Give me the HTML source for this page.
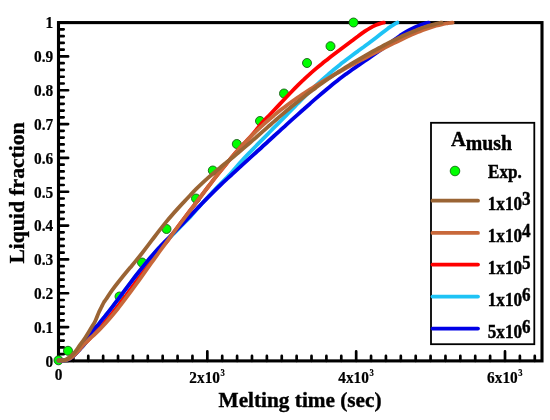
<!DOCTYPE html>
<html><head><meta charset="utf-8"><title>Liquid fraction vs melting time</title>
<style>html,body{margin:0;padding:0;background:#fff}svg{display:block}text{font-family:"Liberation Serif","DejaVu Serif",serif;font-weight:bold;fill:#000;stroke:#000;stroke-width:.2px}.b{stroke-width:.35px}.l{stroke-width:.45px}</style></head><body>
<svg width="550" height="420" viewBox="0 0 550 420">
<rect width="550" height="420" fill="#fff"/>
<path d="M58.5 360.90h9.6M58.5 354.13h5.2M58.5 347.37h5.2M58.5 340.60h5.2M58.5 333.84h5.2M58.5 327.07h9.6M58.5 320.30h5.2M58.5 313.54h5.2M58.5 306.77h5.2M58.5 300.01h5.2M58.5 293.24h9.6M58.5 286.47h5.2M58.5 279.71h5.2M58.5 272.94h5.2M58.5 266.18h5.2M58.5 259.41h9.6M58.5 252.64h5.2M58.5 245.88h5.2M58.5 239.11h5.2M58.5 232.35h5.2M58.5 225.58h9.6M58.5 218.81h5.2M58.5 212.05h5.2M58.5 205.28h5.2M58.5 198.52h5.2M58.5 191.75h9.6M58.5 184.98h5.2M58.5 178.22h5.2M58.5 171.45h5.2M58.5 164.69h5.2M58.5 157.92h9.6M58.5 151.15h5.2M58.5 144.39h5.2M58.5 137.62h5.2M58.5 130.86h5.2M58.5 124.09h9.6M58.5 117.32h5.2M58.5 110.56h5.2M58.5 103.79h5.2M58.5 97.03h5.2M58.5 90.26h9.6M58.5 83.49h5.2M58.5 76.73h5.2M58.5 69.96h5.2M58.5 63.20h5.2M58.5 56.43h9.6M58.5 49.66h5.2M58.5 42.90h5.2M58.5 36.13h5.2M58.5 29.37h5.2M58.5 22.60h9.6" stroke="#000" stroke-width="2.7" stroke-linecap="round" fill="none"/>
<path d="M58.50 360.9v-9.5M73.38 360.9v-5.0M88.27 360.9v-5.0M103.15 360.9v-5.0M118.03 360.9v-5.0M132.92 360.9v-5.0M147.80 360.9v-5.0M162.68 360.9v-5.0M177.57 360.9v-5.0M192.45 360.9v-5.0M207.33 360.9v-9.5M222.22 360.9v-5.0M237.10 360.9v-5.0M251.98 360.9v-5.0M266.87 360.9v-5.0M281.75 360.9v-5.0M296.63 360.9v-5.0M311.52 360.9v-5.0M326.40 360.9v-5.0M341.28 360.9v-5.0M356.17 360.9v-9.5M371.05 360.9v-5.0M385.93 360.9v-5.0M400.82 360.9v-5.0M415.70 360.9v-5.0M430.58 360.9v-5.0M445.47 360.9v-5.0M460.35 360.9v-5.0M475.23 360.9v-5.0M490.12 360.9v-5.0M505.00 360.9v-9.5M519.88 360.9v-5.0M534.77 360.9v-5.0" stroke="#000" stroke-width="2.7" stroke-linecap="round" fill="none"/>
<rect x="58.5" y="22.6" width="483.5" height="338.3" fill="none" stroke="#000" stroke-width="3.1"/>
<g fill="#00ff00" stroke="#1a5c1a" stroke-width="0.9"><circle cx="58.5" cy="360.3" r="4.5"/><circle cx="68.0" cy="350.8" r="4.5"/><circle cx="119.5" cy="296.5" r="4.5"/><circle cx="142.0" cy="262.5" r="4.5"/><circle cx="166.5" cy="229.0" r="4.5"/><circle cx="196.0" cy="198.5" r="4.5"/><circle cx="212.8" cy="170.5" r="4.5"/><circle cx="236.8" cy="144.0" r="4.5"/><circle cx="260.0" cy="121.0" r="4.5"/><circle cx="284.0" cy="93.5" r="4.5"/><circle cx="307.0" cy="63.0" r="4.5"/><circle cx="330.5" cy="46.2" r="4.5"/><circle cx="353.5" cy="22.5" r="4.5"/></g>
<path d="M58.5 360.5 C59.4 360.5 62.4 360.5 64.0 360.3 C65.6 360.1 66.7 359.9 68.0 359.3 C69.3 358.8 70.7 358.0 72.0 357.0 C73.3 356.0 74.7 354.8 76.0 353.5 C77.3 352.2 78.5 350.7 80.0 349.0 C81.5 347.3 83.3 345.3 85.0 343.5 C86.7 341.7 87.7 341.1 90.0 338.0 C92.3 334.9 97.3 326.8 99.0 325.0 C100.7 323.2 98.8 327.8 100.0 327.1 C101.2 326.3 104.0 322.8 106.0 320.5 C108.0 318.2 110.0 315.8 112.0 313.4 C114.0 311.0 116.0 308.5 118.0 305.9 C120.0 303.4 122.0 300.7 124.0 298.1 C126.0 295.4 128.0 292.7 130.0 290.0 C132.0 287.3 134.0 284.5 136.0 281.7 C138.0 278.9 140.0 276.1 142.0 273.3 C144.0 270.5 146.0 267.7 148.0 264.9 C150.0 262.1 152.0 259.3 154.0 256.6 C156.0 253.8 158.0 250.9 160.0 248.6 C162.0 246.2 164.0 244.9 166.0 242.6 C168.0 240.2 170.0 237.4 172.0 234.7 C174.0 232.1 176.0 229.4 178.0 226.7 C180.0 224.0 182.0 221.3 184.0 218.7 C186.0 216.0 188.0 213.4 190.0 210.7 C192.0 208.1 194.0 205.5 196.0 202.8 C198.0 200.2 200.0 197.5 202.0 194.9 C204.0 192.3 206.0 189.6 208.0 187.0 C210.0 184.4 212.0 181.8 214.0 179.2 C216.0 176.7 218.0 174.1 220.0 171.6 C222.0 169.1 224.0 166.6 226.0 164.2 C228.0 161.7 230.0 159.3 232.0 156.9 C234.0 154.6 236.0 152.3 238.0 150.1 C240.0 147.8 242.0 145.6 244.0 143.5 C246.0 141.4 248.0 139.5 250.0 137.3 C252.0 135.0 254.0 132.6 256.0 130.2 C258.0 127.8 260.0 125.1 262.0 122.9 C264.0 120.6 266.0 118.7 268.0 116.6 C270.0 114.5 272.0 112.5 274.0 110.3 C276.0 108.2 278.0 106.1 280.0 103.9 C282.0 101.8 284.0 99.7 286.0 97.5 C288.0 95.4 290.0 93.3 292.0 91.2 C294.0 89.1 296.0 87.1 298.0 85.1 C300.0 83.1 302.0 81.1 304.0 79.3 C306.0 77.4 308.0 75.6 310.0 73.8 C312.0 72.0 314.0 70.3 316.0 68.6 C318.0 66.9 320.0 65.3 322.0 63.7 C324.0 62.0 326.0 60.5 328.0 58.9 C330.0 57.3 332.0 55.8 334.0 54.3 C336.0 52.8 338.0 51.3 340.0 49.8 C342.0 48.2 344.0 46.7 346.0 45.2 C348.0 43.7 350.0 42.2 352.0 40.7 C354.0 39.2 356.0 37.6 358.0 36.2 C360.0 34.7 362.0 33.2 364.0 31.9 C366.0 30.6 368.0 29.2 370.0 28.1 C372.0 26.9 374.1 25.8 376.0 25.0 C377.9 24.2 380.1 23.5 381.4 23.1 C382.7 22.7 383.5 22.7 383.9 22.6" stroke="#ff0000" stroke-width="3.8" fill="none" stroke-linecap="round" stroke-linejoin="round"/>
<path d="M58.5 360.5 C59.4 360.5 62.4 360.5 64.0 360.3 C65.6 360.1 66.7 359.9 68.0 359.3 C69.3 358.8 70.7 358.0 72.0 357.0 C73.3 356.0 74.7 354.8 76.0 353.5 C77.3 352.2 78.5 350.7 80.0 349.0 C81.5 347.3 83.0 346.4 85.0 343.5 C87.0 340.6 89.8 334.6 92.0 331.5 C94.2 328.4 96.7 326.5 98.0 325.0 C99.3 323.5 98.7 324.0 100.0 322.4 C101.3 320.7 104.0 317.5 106.0 315.0 C108.0 312.5 110.0 309.9 112.0 307.3 C114.0 304.7 116.0 302.1 118.0 299.4 C120.0 296.8 122.0 294.1 124.0 291.4 C126.0 288.8 128.0 286.1 130.0 283.4 C132.0 280.8 134.0 278.1 136.0 275.5 C138.0 272.9 140.0 270.4 142.0 267.8 C144.0 265.3 146.0 262.8 148.0 260.4 C150.0 258.0 152.0 255.7 154.0 253.4 C156.0 251.2 158.0 248.9 160.0 246.9 C162.0 244.8 164.0 243.0 166.0 241.1 C168.0 239.2 170.0 237.3 172.0 235.3 C174.0 233.4 176.0 231.3 178.0 229.3 C180.0 227.3 182.0 225.3 184.0 223.2 C186.0 221.2 188.0 219.2 190.0 217.1 C192.0 214.9 194.0 212.6 196.0 210.3 C198.0 208.1 200.0 205.9 202.0 203.6 C204.0 201.4 206.0 199.2 208.0 197.0 C210.0 194.9 212.0 192.7 214.0 190.6 C216.0 188.5 218.0 186.4 220.0 184.4 C222.0 182.3 224.0 180.4 226.0 178.3 C228.0 176.2 230.0 174.2 232.0 171.9 C234.0 169.7 236.0 167.2 238.0 165.0 C240.0 162.7 242.0 160.6 244.0 158.4 C246.0 156.3 248.0 154.2 250.0 152.2 C252.0 150.1 254.0 148.1 256.0 146.0 C258.0 144.0 260.0 141.9 262.0 139.9 C264.0 137.8 266.0 135.8 268.0 133.8 C270.0 131.8 272.0 129.7 274.0 127.7 C276.0 125.7 278.0 123.7 280.0 121.6 C282.0 119.6 284.0 117.6 286.0 115.6 C288.0 113.5 290.0 111.5 292.0 109.5 C294.0 107.4 296.0 105.4 298.0 103.3 C300.0 101.3 302.0 99.3 304.0 97.2 C306.0 95.2 308.0 93.2 310.0 91.3 C312.0 89.3 314.0 87.4 316.0 85.5 C318.0 83.6 320.0 81.7 322.0 79.9 C324.0 78.1 326.0 76.3 328.0 74.6 C330.0 72.8 332.0 71.2 334.0 69.5 C336.0 67.9 338.0 66.3 340.0 64.7 C342.0 63.1 344.0 61.6 346.0 60.0 C348.0 58.5 350.0 57.0 352.0 55.5 C354.0 54.0 356.0 52.5 358.0 51.1 C360.0 49.6 362.0 48.1 364.0 46.7 C366.0 45.2 368.0 43.8 370.0 42.3 C372.0 40.8 374.0 39.3 376.0 37.8 C378.0 36.3 380.0 34.7 382.0 33.1 C384.0 31.5 385.9 30.0 388.0 28.4 C390.1 26.9 393.3 24.9 394.9 23.9 C396.5 22.9 397.0 22.8 397.4 22.6" stroke="#1ec3f5" stroke-width="3.8" fill="none" stroke-linecap="round" stroke-linejoin="round"/>
<path d="M58.5 360.5 C59.4 360.5 62.4 360.5 64.0 360.3 C65.6 360.1 66.7 359.9 68.0 359.3 C69.3 358.8 70.7 358.0 72.0 357.0 C73.3 356.0 74.7 354.8 76.0 353.5 C77.3 352.2 78.5 350.7 80.0 349.0 C81.5 347.3 83.0 346.4 85.0 343.5 C87.0 340.6 89.8 334.6 92.0 331.5 C94.2 328.4 96.7 326.5 98.0 325.0 C99.3 323.5 98.7 324.0 100.0 322.4 C101.3 320.7 104.0 317.5 106.0 315.0 C108.0 312.5 110.0 309.9 112.0 307.3 C114.0 304.7 116.0 302.1 118.0 299.4 C120.0 296.8 122.0 294.1 124.0 291.4 C126.0 288.8 128.0 286.1 130.0 283.4 C132.0 280.8 134.0 278.1 136.0 275.5 C138.0 272.9 140.0 270.4 142.0 267.8 C144.0 265.3 146.0 262.8 148.0 260.4 C150.0 258.0 152.0 255.7 154.0 253.4 C156.0 251.2 158.0 249.0 160.0 246.9 C162.0 244.7 164.0 242.7 166.0 240.6 C168.0 238.5 170.0 236.5 172.0 234.5 C174.0 232.5 176.0 230.5 178.0 228.5 C180.0 226.5 182.0 224.5 184.0 222.4 C186.0 220.4 188.0 218.3 190.0 216.2 C192.0 214.1 194.0 212.0 196.0 209.8 C198.0 207.7 200.0 205.6 202.0 203.5 C204.0 201.4 206.0 199.3 208.0 197.3 C210.0 195.3 212.0 193.3 214.0 191.3 C216.0 189.3 218.0 187.4 220.0 185.5 C222.0 183.6 224.0 181.7 226.0 179.9 C228.0 178.0 230.0 176.2 232.0 174.3 C234.0 172.5 236.0 170.7 238.0 168.8 C240.0 167.0 242.0 165.2 244.0 163.4 C246.0 161.6 248.0 159.8 250.0 157.9 C252.0 156.1 254.0 154.3 256.0 152.5 C258.0 150.7 260.0 148.8 262.0 147.0 C264.0 145.2 266.0 143.3 268.0 141.5 C270.0 139.7 272.0 137.9 274.0 136.0 C276.0 134.2 278.0 132.4 280.0 130.6 C282.0 128.8 284.0 126.9 286.0 125.1 C288.0 123.3 290.0 121.5 292.0 119.7 C294.0 117.9 296.0 116.1 298.0 114.3 C300.0 112.5 302.0 110.7 304.0 109.0 C306.0 107.2 308.0 105.4 310.0 103.7 C312.0 101.9 314.0 100.1 316.0 98.4 C318.0 96.7 320.0 95.0 322.0 93.3 C324.0 91.6 326.0 89.9 328.0 88.2 C330.0 86.6 332.0 84.9 334.0 83.3 C336.0 81.7 338.0 80.2 340.0 78.6 C342.0 77.1 344.0 75.6 346.0 74.1 C348.0 72.7 350.0 71.2 352.0 69.8 C354.0 68.4 356.0 67.0 358.0 65.7 C360.0 64.3 362.0 62.9 364.0 61.5 C366.0 60.2 368.0 58.8 370.0 57.4 C372.0 56.1 374.0 54.7 376.0 53.3 C378.0 51.9 380.0 50.5 382.0 49.0 C384.0 47.5 386.0 46.0 388.0 44.5 C390.0 43.0 392.0 41.5 394.0 40.0 C396.0 38.5 398.0 37.1 400.0 35.7 C402.0 34.4 404.0 33.1 406.0 31.9 C408.0 30.7 410.0 29.6 412.0 28.6 C414.0 27.6 416.0 26.7 418.0 25.9 C420.0 25.1 422.6 24.3 424.0 23.8 C425.4 23.4 425.4 23.4 426.2 23.2 C427.0 23.0 428.3 22.7 428.7 22.6" stroke="#0000e6" stroke-width="3.8" fill="none" stroke-linecap="round" stroke-linejoin="round"/>
<path d="M58.5 360.5 C59.4 360.5 62.4 360.5 64.0 360.3 C65.6 360.1 66.7 359.9 68.0 359.3 C69.3 358.8 70.7 358.0 72.0 357.0 C73.3 356.0 74.7 354.8 76.0 353.5 C77.3 352.2 78.5 350.7 80.0 349.0 C81.5 347.3 83.3 345.2 85.0 343.5 C86.7 341.8 88.3 340.1 90.0 338.5 C91.7 336.9 93.3 335.6 95.0 334.0 C96.7 332.4 98.2 331.0 100.0 329.2 C101.8 327.3 104.0 325.0 106.0 322.8 C108.0 320.5 110.0 318.2 112.0 315.8 C114.0 313.4 116.0 311.0 118.0 308.5 C120.0 305.9 122.0 303.4 124.0 300.7 C126.0 298.1 128.0 295.4 130.0 292.7 C132.0 290.0 134.0 287.3 136.0 284.5 C138.0 281.7 140.0 278.9 142.0 276.1 C144.0 273.3 146.0 270.5 148.0 267.7 C150.0 264.9 152.0 262.1 154.0 259.3 C156.0 256.6 158.0 253.8 160.0 251.0 C162.0 248.3 164.0 245.5 166.0 242.8 C168.0 240.1 170.0 237.4 172.0 234.7 C174.0 232.0 176.0 229.4 178.0 226.7 C180.0 224.0 182.0 221.3 184.0 218.7 C186.0 216.0 188.0 213.4 190.0 210.7 C192.0 208.1 194.0 205.5 196.0 202.8 C198.0 200.2 200.0 197.5 202.0 194.9 C204.0 192.3 206.0 189.6 208.0 187.0 C210.0 184.4 212.0 181.8 214.0 179.2 C216.0 176.7 218.0 174.1 220.0 171.6 C222.0 169.1 224.0 166.6 226.0 164.2 C228.0 161.7 230.0 159.3 232.0 156.9 C234.0 154.6 236.0 152.3 238.0 150.1 C240.0 147.8 242.0 145.6 244.0 143.5 C246.0 141.4 248.0 139.3 250.0 137.3 C252.0 135.3 254.0 133.3 256.0 131.4 C258.0 129.5 260.0 127.6 262.0 125.8 C264.0 123.9 266.0 122.2 268.0 120.5 C270.0 118.7 272.0 117.0 274.0 115.4 C276.0 113.7 278.0 112.1 280.0 110.5 C282.0 109.0 284.0 107.4 286.0 105.9 C288.0 104.4 290.0 103.0 292.0 101.5 C294.0 100.1 296.0 98.7 298.0 97.3 C300.0 96.0 302.0 94.6 304.0 93.3 C306.0 92.0 308.0 90.7 310.0 89.4 C312.0 88.1 314.0 86.9 316.0 85.6 C318.0 84.4 320.0 83.2 322.0 82.0 C324.0 80.8 326.0 79.6 328.0 78.4 C330.0 77.2 332.0 76.1 334.0 74.9 C336.0 73.8 338.0 72.6 340.0 71.5 C342.0 70.4 344.0 69.3 346.0 68.2 C348.0 67.1 350.0 66.0 352.0 64.9 C354.0 63.8 356.0 62.8 358.0 61.7 C360.0 60.6 362.0 59.6 364.0 58.5 C366.0 57.5 368.0 56.4 370.0 55.4 C372.0 54.3 374.0 53.3 376.0 52.3 C378.0 51.2 380.0 50.2 382.0 49.2 C384.0 48.2 386.0 47.2 388.0 46.1 C390.0 45.1 392.0 44.1 394.0 43.1 C396.0 42.1 398.0 41.1 400.0 40.2 C402.0 39.2 404.0 38.2 406.0 37.3 C408.0 36.4 410.0 35.5 412.0 34.6 C414.0 33.7 416.0 32.9 418.0 32.1 C420.0 31.2 422.0 30.5 424.0 29.7 C426.0 29.0 428.0 28.3 430.0 27.6 C432.0 27.0 434.0 26.4 436.0 25.8 C438.0 25.2 440.0 24.7 442.0 24.3 C444.0 23.8 446.6 23.4 448.0 23.1 C449.4 22.9 449.4 22.9 450.2 22.8 C451.0 22.7 452.3 22.6 452.7 22.6" stroke="#c8683a" stroke-width="3.8" fill="none" stroke-linecap="round" stroke-linejoin="round"/>
<path d="M58.5 360.5 C59.2 360.5 61.6 360.6 63.0 360.3 C64.4 360.1 65.7 359.7 67.0 359.0 C68.3 358.3 69.7 357.2 71.0 356.0 C72.3 354.8 73.5 353.8 75.0 352.0 C76.5 350.2 78.3 347.3 80.0 345.0 C81.7 342.7 83.3 340.5 85.0 338.0 C86.7 335.5 88.7 332.2 90.0 330.0 C91.3 327.8 92.1 326.6 93.0 325.0 C93.9 323.4 94.5 322.7 95.5 320.5 C96.5 318.3 98.0 314.2 99.0 312.0 C100.0 309.8 100.8 308.4 101.5 307.0 C102.2 305.6 102.8 304.3 103.3 303.4 C103.8 302.5 103.8 302.4 104.2 301.7 C104.7 301.0 104.7 301.2 106.0 299.3 C107.3 297.4 110.0 293.2 112.0 290.4 C114.0 287.6 116.0 285.0 118.0 282.5 C120.0 279.9 122.0 277.5 124.0 275.0 C126.0 272.6 128.0 270.2 130.0 267.8 C132.0 265.4 134.0 263.1 136.0 260.6 C138.0 258.2 140.0 255.7 142.0 253.2 C144.0 250.6 146.0 248.0 148.0 245.4 C150.0 242.8 152.0 240.1 154.0 237.5 C156.0 234.8 158.0 232.2 160.0 229.6 C162.0 227.1 164.0 224.5 166.0 222.1 C168.0 219.7 170.0 217.3 172.0 215.1 C174.0 212.8 176.0 210.6 178.0 208.4 C180.0 206.2 182.0 204.0 184.0 201.9 C186.0 199.7 188.0 197.6 190.0 195.5 C192.0 193.4 194.0 191.2 196.0 189.2 C198.0 187.2 200.0 185.3 202.0 183.4 C204.0 181.5 206.0 179.7 208.0 177.9 C210.0 176.1 212.0 174.4 214.0 172.7 C216.0 171.0 218.0 169.3 220.0 167.7 C222.0 166.0 224.0 164.4 226.0 162.8 C228.0 161.1 230.0 159.5 232.0 157.9 C234.0 156.3 236.0 154.6 238.0 153.0 C240.0 151.3 242.0 149.6 244.0 147.9 C246.0 146.2 248.0 144.5 250.0 142.8 C252.0 141.0 254.0 139.2 256.0 137.5 C258.0 135.7 260.0 133.9 262.0 132.1 C264.0 130.4 266.0 128.6 268.0 126.8 C270.0 125.1 272.0 123.3 274.0 121.6 C276.0 119.9 278.0 118.1 280.0 116.4 C282.0 114.7 284.0 113.0 286.0 111.3 C288.0 109.7 290.0 108.0 292.0 106.3 C294.0 104.7 296.0 103.1 298.0 101.5 C300.0 99.9 302.0 98.3 304.0 96.7 C306.0 95.1 308.0 93.6 310.0 92.1 C312.0 90.6 314.0 89.0 316.0 87.6 C318.0 86.1 320.0 84.6 322.0 83.2 C324.0 81.8 326.0 80.4 328.0 79.0 C330.0 77.6 332.0 76.2 334.0 74.9 C336.0 73.6 338.0 72.2 340.0 71.0 C342.0 69.7 344.0 68.4 346.0 67.1 C348.0 65.9 350.0 64.6 352.0 63.4 C354.0 62.2 356.0 61.0 358.0 59.8 C360.0 58.6 362.0 57.5 364.0 56.3 C366.0 55.2 368.0 54.0 370.0 52.9 C372.0 51.8 374.0 50.7 376.0 49.6 C378.0 48.5 380.0 47.5 382.0 46.4 C384.0 45.3 386.0 44.3 388.0 43.2 C390.0 42.2 392.0 41.2 394.0 40.2 C396.0 39.2 398.0 38.2 400.0 37.3 C402.0 36.3 404.0 35.4 406.0 34.5 C408.0 33.6 410.0 32.7 412.0 31.9 C414.0 31.0 416.0 30.2 418.0 29.4 C420.0 28.7 422.0 27.9 424.0 27.3 C426.0 26.6 428.0 25.9 430.0 25.4 C432.0 24.8 434.4 24.2 436.0 23.8 C437.6 23.4 438.3 23.2 439.3 23.0 C440.3 22.8 441.4 22.7 441.8 22.6" stroke="#9a6434" stroke-width="3.8" fill="none" stroke-linecap="round" stroke-linejoin="round"/>
<text transform="translate(53.2 366.7) scale(0.96 1)" font-size="16" text-anchor="end">0</text>
<text transform="translate(53.2 332.9) scale(0.96 1)" font-size="16" text-anchor="end">0.1</text>
<text transform="translate(53.2 299.0) scale(0.96 1)" font-size="16" text-anchor="end">0.2</text>
<text transform="translate(53.2 265.2) scale(0.96 1)" font-size="16" text-anchor="end">0.3</text>
<text transform="translate(53.2 231.4) scale(0.96 1)" font-size="16" text-anchor="end">0.4</text>
<text transform="translate(53.2 197.6) scale(0.96 1)" font-size="16" text-anchor="end">0.5</text>
<text transform="translate(53.2 163.7) scale(0.96 1)" font-size="16" text-anchor="end">0.6</text>
<text transform="translate(53.2 129.9) scale(0.96 1)" font-size="16" text-anchor="end">0.7</text>
<text transform="translate(53.2 96.1) scale(0.96 1)" font-size="16" text-anchor="end">0.8</text>
<text transform="translate(53.2 62.2) scale(0.96 1)" font-size="16" text-anchor="end">0.9</text>
<text transform="translate(53.2 28.4) scale(0.96 1)" font-size="16" text-anchor="end">1</text>
<text transform="translate(58.5 380.2) scale(0.96 1)" font-size="16" text-anchor="middle">0</text>
<text transform="translate(204.7 382.8) scale(0.96 1)" font-size="16" text-anchor="middle">2x10</text><text transform="translate(220.5 376.1) scale(0.8 1)" font-size="10.8">3</text>
<text transform="translate(353.6 382.8) scale(0.96 1)" font-size="16" text-anchor="middle">4x10</text><text transform="translate(369.4 376.1) scale(0.8 1)" font-size="10.8">3</text>
<text transform="translate(502.4 382.8) scale(0.96 1)" font-size="16" text-anchor="middle">6x10</text><text transform="translate(518.2 376.1) scale(0.8 1)" font-size="10.8">3</text>
<text x="218.6" y="407.3" font-size="20" textLength="163" lengthAdjust="spacingAndGlyphs" class="b">Melting time (sec)</text>
<text transform="translate(23.8 263.6) rotate(-90)" font-size="20" textLength="141.2" lengthAdjust="spacingAndGlyphs" class="b">Liquid fraction</text>
<rect x="431" y="122.8" width="103.3" height="221.4" fill="#fff" stroke="#000" stroke-width="1.8"/>
<text x="451" y="146.2" font-size="21.5" textLength="61" class="l" lengthAdjust="spacingAndGlyphs">A<tspan dy="3.5" font-size="20.8">mush</tspan></text>
<circle cx="455" cy="171" r="4.8" fill="#00ff00" stroke="#0a5a0a" stroke-width="0.8"/>
<text x="488" y="177.6" font-size="18.3" textLength="33.8" class="l" lengthAdjust="spacingAndGlyphs">Exp.</text>
<path d="M432.5 200.7H478" stroke="#9a6434" stroke-width="3.8" stroke-linecap="round"/>
<text x="487.8" y="210.2" font-size="19.5" textLength="42.7" lengthAdjust="spacingAndGlyphs" class="l">1x10<tspan dy="-5.3">3</tspan></text>
<path d="M432.5 232.9H478" stroke="#c8683a" stroke-width="3.8" stroke-linecap="round"/>
<text x="487.8" y="242.4" font-size="19.5" textLength="42.7" lengthAdjust="spacingAndGlyphs" class="l">1x10<tspan dy="-5.3">4</tspan></text>
<path d="M432.5 264.6H478" stroke="#ff0000" stroke-width="3.8" stroke-linecap="round"/>
<text x="487.8" y="274.1" font-size="19.5" textLength="42.7" lengthAdjust="spacingAndGlyphs" class="l">1x10<tspan dy="-5.3">5</tspan></text>
<path d="M432.5 296.6H478" stroke="#1ec3f5" stroke-width="3.8" stroke-linecap="round"/>
<text x="487.8" y="306.1" font-size="19.5" textLength="42.7" lengthAdjust="spacingAndGlyphs" class="l">1x10<tspan dy="-5.3">6</tspan></text>
<path d="M432.5 328.6H478" stroke="#0000e6" stroke-width="3.8" stroke-linecap="round"/>
<text x="487.8" y="338.1" font-size="19.5" textLength="42.7" lengthAdjust="spacingAndGlyphs" class="l">5x10<tspan dy="-5.3">6</tspan></text>
</svg></body></html>
